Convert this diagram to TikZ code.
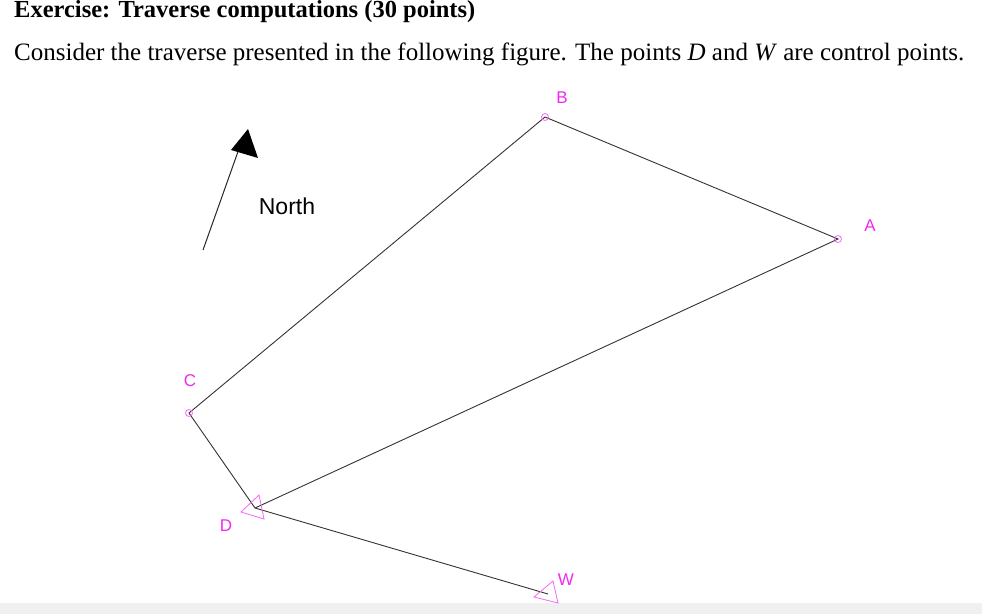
\documentclass[tikz,border=0pt]{standalone}
\usepackage{fontspec}
\setmainfont{Liberation Serif}
\newfontfamily\lab{Liberation Sans}
\definecolor{mag}{RGB}{240,40,240}
\begin{document}
\begin{tikzpicture}[x=1pt,y=-1pt,
 leg/.style={draw=black!80,line width=0.9pt},
 mk/.style={draw=mag!70,line width=0.8pt},
 lbl/.style={text=mag,font=\lab\fontsize{17}{17}\selectfont,inner sep=0}]
\useasboundingbox (0,0) rectangle (982,614);
\fill[black!6] (0,603) rectangle (982,614);
\node[anchor=base west,inner sep=0,font=\bfseries\fontsize{24.5}{24.5}\selectfont] (t1) at (14,17) {Exercise: Traverse computations (30 points)};
\node[anchor=base west,inner sep=0,font=\fontsize{25}{25}\selectfont] (t2) at (14,60) {Consider the traverse presented in the following figure. The points \textit{D} and \textit{W} are control points.};
\coordinate (A) at (838,239);
\coordinate (B) at (545,117);
\coordinate (C) at (189,413);
\coordinate (D) at (255,508);
\coordinate (W) at (548,594);
\draw[leg] (D) -- (A) -- (B) -- (C) -- (D) -- (W);
\draw[mk] (A) circle (3.5);
\draw[mk] (B) circle (3.5);
\draw[mk] (C) circle (3.5);
\draw[mk] (241,512) -- (259,495) -- (264,519) -- cycle;
\draw[mk] (534,597) -- (553,581) -- (558,603) -- cycle;
\node[lbl] (lA) at (870,226) {A};
\node[lbl] (lB) at (562,98) {B};
\node[lbl] (lC) at (190,381) {C};
\node[lbl] (lD) at (226,526) {D};
\node[lbl] (lW) at (566,580) {W};
\coordinate (n0) at (203,250);
\coordinate (n1) at (240,146);
\draw[black!85,line width=1pt] (n0) -- (n1);
\fill (248,129) -- (258,158) -- (231,150) -- cycle;
\node[font=\lab\fontsize{23}{23}\selectfont,inner sep=0] (north) at (287,206) {North};
\end{tikzpicture}
\end{document}
